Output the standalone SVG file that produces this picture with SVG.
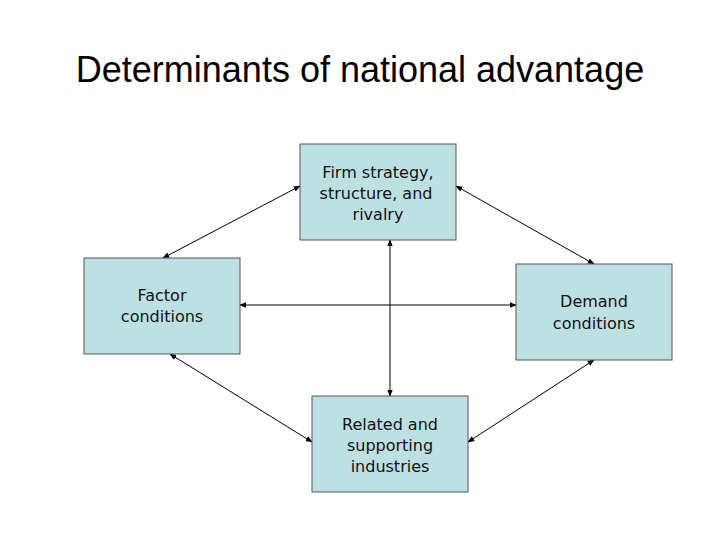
<svg xmlns="http://www.w3.org/2000/svg" width="720" height="540" viewBox="0 0 720 540">
<style>
.box{fill:#bde0e2;stroke:#555;stroke-width:1}
.t{font-family:"DejaVu Sans",sans-serif;font-size:16px;fill:#111;text-anchor:middle}
.c{stroke:#000;stroke-width:1;fill:none;marker-start:url(#a);marker-end:url(#a)}
</style>
<defs><marker id="a" viewBox="0 0 10 10" refX="9" refY="5" markerWidth="7" markerHeight="7" orient="auto-start-reverse"><path d="M0,1 L10,5 L0,9 z" fill="#000"/></marker></defs>
<rect width="720" height="540" fill="#fff"/>
<text x="360" y="82" font-family="Liberation Sans,sans-serif" font-size="36" text-anchor="middle" fill="#000">Determinants of national advantage</text>
<g id="connectors">
<line class="c" x1="300" y1="186" x2="163" y2="258"/>
<line class="c" x1="456" y1="186" x2="594" y2="264"/>
<line class="c" x1="240" y1="305" x2="516" y2="305"/>
<line class="c" x1="390" y1="240" x2="390" y2="396"/>
<line class="c" x1="170" y1="354" x2="312" y2="442"/>
<line class="c" x1="594" y1="360" x2="468" y2="442"/>
</g>
<g id="firm"><rect class="box" x="300" y="144" width="156" height="96"/>
<text class="t" x="378" y="178">Firm strategy,</text><text class="t" x="376" y="199">structure, and</text><text class="t" x="378" y="220">rivalry</text></g>
<g id="factor"><rect class="box" x="84" y="258" width="156" height="96"/>
<text class="t" x="162" y="301">Factor</text><text class="t" x="162" y="322">conditions</text></g>
<g id="demand"><rect class="box" x="516" y="264" width="156" height="96"/>
<text class="t" x="594" y="307">Demand</text><text class="t" x="594" y="329">conditions</text></g>
<g id="related"><rect class="box" x="312" y="396" width="156" height="96"/>
<text class="t" x="390" y="430">Related and</text><text class="t" x="390" y="451">supporting</text><text class="t" x="390" y="472">industries</text></g>
</svg>
